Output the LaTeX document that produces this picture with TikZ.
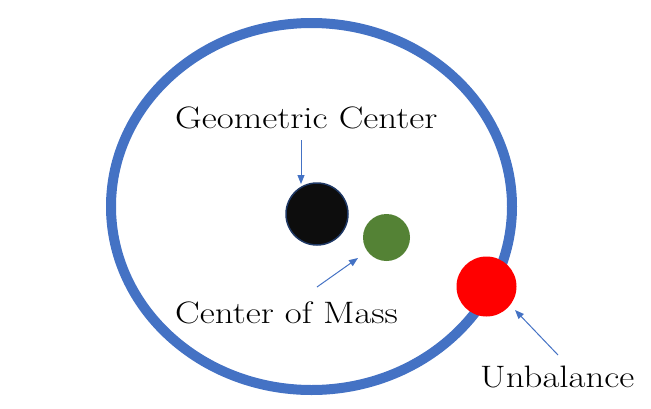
\documentclass[tikz,border=0pt]{standalone}
\usetikzlibrary{arrows.meta}
\definecolor{ringblue}{HTML}{4472C4}
\definecolor{massgreen}{HTML}{548235}
\definecolor{gcdark}{HTML}{0D0D0D}
\definecolor{gcedge}{HTML}{1F3864}
\definecolor{ubred}{HTML}{FF0000}
\newcommand{\widetxt}[1]{\scalebox{1.19}[1]{#1}}
\tikzset{
  lbl/.style={inner sep=0pt, anchor=base west, font=\fontsize{31}{38}\selectfont},
  ptr/.style={draw=ringblue, line width=1pt, -{Triangle[length=9pt,width=7pt]}},
  disc/.style={circle, inner sep=0pt}
}
\begin{document}
\begin{tikzpicture}[x=1pt,y=-1pt]
\useasboundingbox (0,0) rectangle (651,408);
\draw[ringblue, line width=10pt] (311.5,206.5) ellipse [x radius=200.5, y radius=183.5];
\node[disc, fill=gcdark, draw=gcedge, line width=1.5pt, minimum size=62pt] (gc) at (317,214) {};
\node[disc, fill=massgreen, minimum size=47pt] (cm) at (386.5,237.5) {};
\node[disc, fill=ubred, minimum size=60pt] (ub) at (486.5,286.5) {};
\node[lbl] (gclbl) at (175,128) {\widetxt{Geometric Center}};
\node[lbl] (cmlbl) at (175,323) {\widetxt{Center of Mass}};
\node[lbl] (ublbl) at (480,387) {\widetxt{Unbalance}};
\coordinate (gcs) at (301,140);
\coordinate (gct) at (301,184);
\coordinate (cms) at (317,287);
\coordinate (cmt) at (358,258);
\coordinate (ubs) at (558,355);
\coordinate (ubt) at (515,310);
\draw[ptr] (gcs) -- (gct);
\draw[ptr] (cms) -- (cmt);
\draw[ptr] (ubs) -- (ubt);
\end{tikzpicture}
\end{document}
